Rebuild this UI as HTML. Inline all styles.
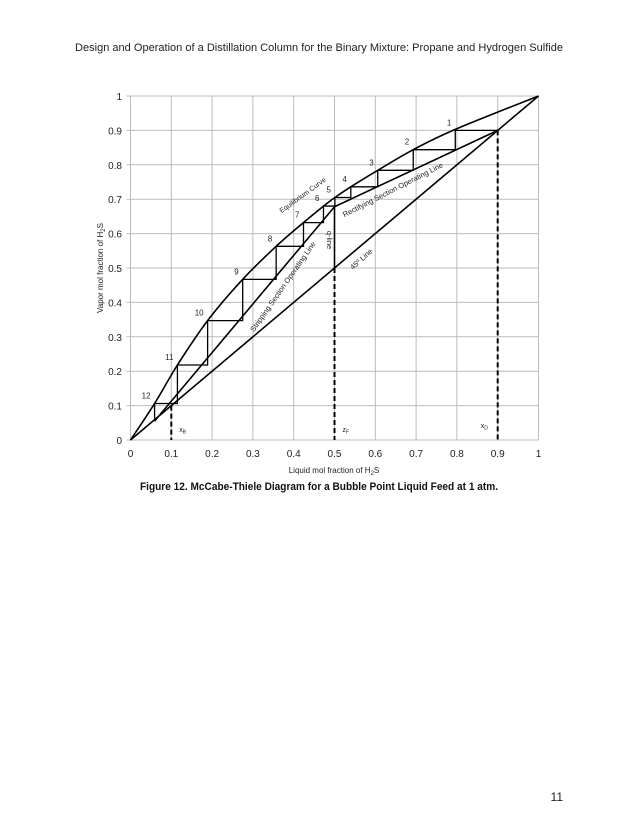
<!DOCTYPE html>
<html><head><meta charset="utf-8"><style>
body{margin:0;background:#fff;width:638px;height:826px;overflow:hidden;font-family:"Liberation Sans",sans-serif}
svg text{font-family:"Liberation Sans",sans-serif}
</style></head><body>
<svg id="chart" width="638" height="826" xmlns="http://www.w3.org/2000/svg">
<text x="319" y="51" font-size="11" text-anchor="middle" fill="#222" textLength="488" lengthAdjust="spacingAndGlyphs">Design and Operation of a Distillation Column for the Binary Mixture: Propane and Hydrogen Sulfide</text>
<g id="grid"></g><g id="marks"></g><g id="labels"></g>
<text x="334" y="473" font-size="8" text-anchor="middle" fill="#222">Liquid mol fraction of H<tspan font-size="6" dy="2">2</tspan><tspan dy="-2">S</tspan></text>
<text transform="translate(103,268) rotate(-90)" font-size="8" text-anchor="middle" fill="#222">Vapor mol fraction of H<tspan font-size="6" dy="2">2</tspan><tspan dy="-2">S</tspan></text>
<text x="319" y="490" font-size="11" font-weight="bold" text-anchor="middle" fill="#111" textLength="358" lengthAdjust="spacingAndGlyphs">Figure 12. McCabe-Thiele Diagram for a Bubble Point Liquid Feed at 1 atm.</text>
<text x="563" y="801" font-size="12" text-anchor="end" fill="#222">11</text>
</svg>
<script>
const xTicks=[0,0.1,0.2,0.3,0.4,0.5,0.6,0.7,0.8,0.9,1];
const yTicks=[0,0.1,0.2,0.3,0.4,0.5,0.6,0.7,0.8,0.9,1];
const stageX=[0.796,0.693,0.606,0.540,0.501,0.473,0.424,0.357,0.275,0.189,0.115,0.059];
const stageY=[0.900,0.844,0.784,0.736,0.705,0.680,0.632,0.563,0.467,0.347,0.218,0.106];
const stageLabels=["1","2","3","4","5","6","7","8","9","10","11","12"];
const eqX=[0,0.059,0.115,0.189,0.275,0.357,0.424,0.473,0.501,0.540,0.606,0.693,0.796,1];
const eqY=[0,0.106,0.218,0.347,0.467,0.563,0.632,0.680,0.705,0.736,0.784,0.844,0.903,1];
const xD=0.9, zF=0.5, xB=0.1, yIntersect=0.678, bottomY=0.055;
const X=v=>130.5+v*408,Y=v=>440-v*344;
const NS="http://www.w3.org/2000/svg";
function mk(p,t,a){const e=document.createElementNS(NS,t);for(const k in a)e.setAttribute(k,a[k]);p.appendChild(e);return e;}
const grid=document.getElementById('grid'),marks=document.getElementById('marks'),lab=document.getElementById('labels');
xTicks.forEach(v=>{const l=mk(grid,'line',{x1:X(v),x2:X(v),y1:Y(0),y2:Y(1),stroke:'#bbb','stroke-width':1});


const t=mk(lab,'text',{x:X(v),y:457,'font-size':10,'text-anchor':'middle',fill:'#222'});t.textContent=v;

});
yTicks.forEach(v=>{const l=mk(grid,'line',{x1:X(0)-4,x2:X(1),y1:Y(v),y2:Y(v),stroke:'#bbb','stroke-width':1});


const t=mk(lab,'text',{x:122,y:Y(v)+4,'font-size':10,'text-anchor':'end',fill:'#222'});t.textContent=v;

});
const S={stroke:'#000','stroke-width':1.6,fill:'none'};
let e=mk(marks,'line',Object.assign({x1:X(0),y1:Y(0),x2:X(1),y2:Y(1)},S));


let d=`M${X(eqX[0])},${Y(eqY[0])}`;
for(let i=0;i<eqX.length-1;i++){const p0=[X(eqX[Math.max(i-1,0)]),Y(eqY[Math.max(i-1,0)])],p1=[X(eqX[i]),Y(eqY[i])],p2=[X(eqX[i+1]),Y(eqY[i+1])],p3=[X(eqX[Math.min(i+2,eqX.length-1)]),Y(eqY[Math.min(i+2,eqX.length-1)])];
d+=` C${p1[0]+(p2[0]-p0[0])/6},${p1[1]+(p2[1]-p0[1])/6} ${p2[0]-(p3[0]-p1[0])/6},${p2[1]-(p3[1]-p1[1])/6} ${p2[0]},${p2[1]}`;}
e=mk(marks,'path',Object.assign({d},S));


e=mk(marks,'line',Object.assign({x1:X(xD),y1:Y(xD),x2:X(zF),y2:Y(yIntersect)},S));


e=mk(marks,'line',Object.assign({x1:X(stageX[11]),y1:Y(bottomY),x2:X(zF),y2:Y(yIntersect)},S));


e=mk(marks,'line',Object.assign({x1:X(zF),y1:Y(zF),x2:X(zF),y2:Y(yIntersect)},S));


let sd=`M${X(xD)},${Y(xD)}`;
stageX.forEach((x,i)=>{sd+=` H${X(x)} V${Y(i<stageY.length-1?stageY[i+1]:bottomY)}`;});
e=mk(marks,'path',Object.assign({d:sd},S,{'stroke-width':1.3}));


stageX.forEach((x,i)=>{const t=mk(lab,'text',{x:X(x)-4,y:Y(stageY[i])-5,'font-size':8,'text-anchor':'end',fill:'#222'});t.textContent=stageLabels[i];

});
[[xB,'x','B'],[zF,'z','F'],[xD,'x','D']].forEach(([v,a,b],i)=>{const l=mk(marks,'line',{x1:X(v),x2:X(v),y1:Y(v),y2:Y(0),stroke:'#000','stroke-width':2,'stroke-dasharray':'5,3'});


const t=mk(lab,'text',{x:i==2?X(v)-17:X(v)+8,y:i==2?428:432,'font-size':7,fill:'#222'});t.innerHTML=a+'<tspan font-size="5" dy="1.5">'+b+'</tspan>';

});
[["Equilibrium Curve",304,197,-36,7],["Rectifying Section Operating Line",394,192,-27,7.5],["Stripping Section Operating Line",285,288,-55,7.5],["q-line",327,240,90,7.5],["45º Line",363,261,-42,7.5]].forEach(([s,x,y,r,f])=>{const t=mk(lab,'text',{transform:`translate(${x},${y}) rotate(${r})`,'font-size':f,'text-anchor':'middle',fill:'#222'});t.textContent=s;

});
</script>
</body></html>
